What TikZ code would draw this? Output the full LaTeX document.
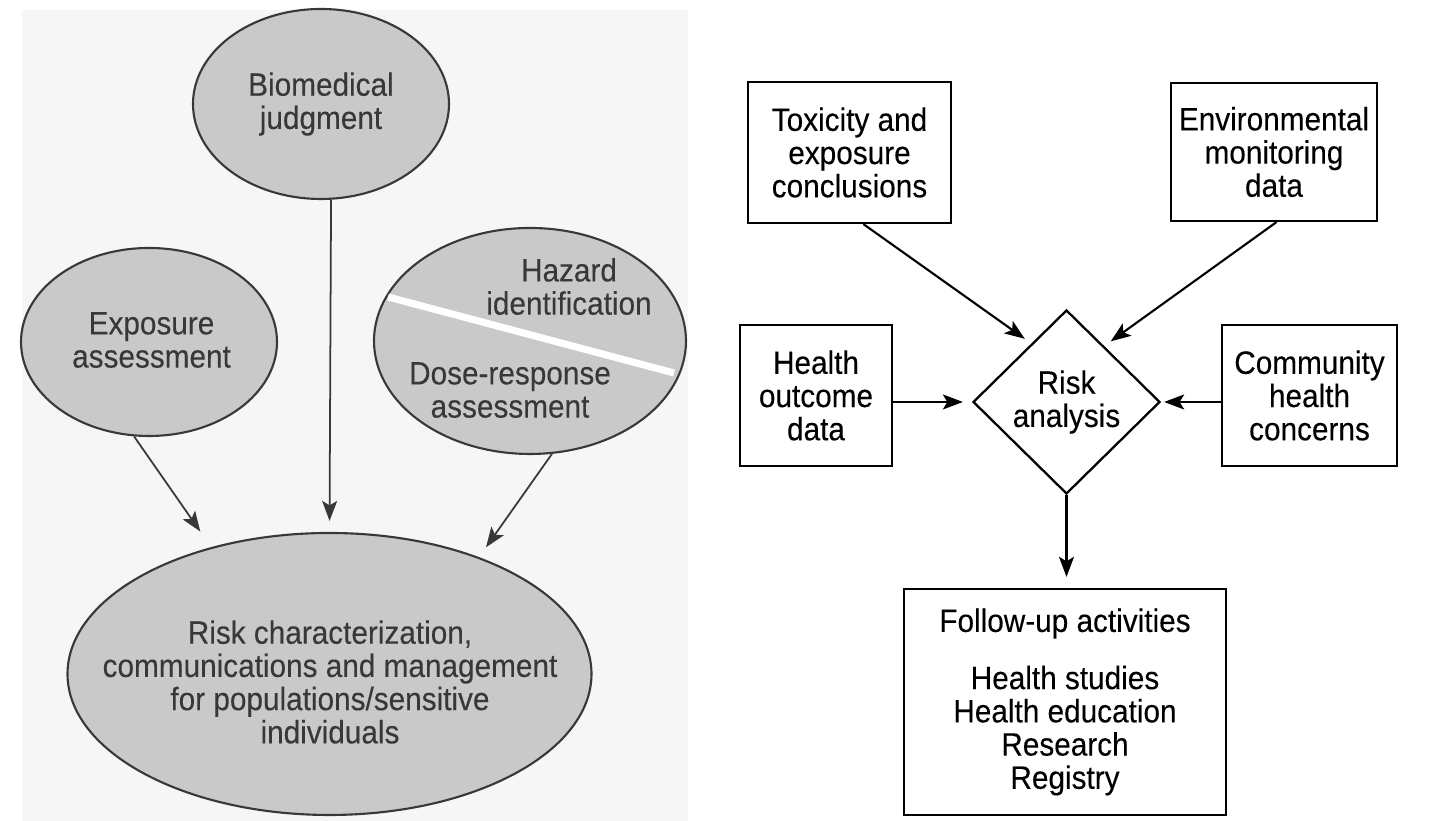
\documentclass[tikz,border=0pt]{standalone}
\usepackage{fontspec}
\setmainfont[FakeStretch=0.92, FakeBold=0.2]{Liberation Sans}
\usetikzlibrary{shapes.geometric, arrows.meta}

\definecolor{pagegray}{gray}{0.965}
\definecolor{blobgray}{gray}{0.79}
\definecolor{inkgray}{gray}{0.22}

\tikzset{
	txt/.style = {align = center, inner sep = 0pt, font = \fontsize{9.2}{9.45}\selectfont},
	blob/.style = {ellipse, draw = inkgray, fill = blobgray, line width = 0.6pt, inner sep = 0pt},
	blobtxt/.style = {txt, text = inkgray},
	box/.style = {txt, rectangle, draw, line width = 0.65pt},
	grayarrow/.style = {draw = inkgray, line width = 0.5pt, ->},
	blackarrow/.style = {line width = 0.6pt, ->}
}

\begin{document}
\begin{tikzpicture}[>={Stealth[length = 2mm, width = 1.5mm, inset = 0.45mm]}]
	 \useasboundingbox (0, 0) rectangle (14.31, 8.21);
	 \fill[pagegray] (0.22, 0) rectangle (6.88, 8.11);

	 % left part
	 \node[blob, blobtxt, minimum width = 2.56 cm, minimum height = 1.90 cm] (biomedical) at (3.21, 7.17) {Biomedical\\judgment};
	 \node[blob, minimum width = 2.56 cm, minimum height = 1.88 cm] (exposure) at (1.49, 4.79) {};
	 \node[blob, minimum width = 3.12 cm, minimum height = 2.26 cm] (hazard) at (5.30, 4.80) {};
	 \node[blob, minimum width = 5.24 cm, minimum height = 2.82 cm] (risk) at (3.295, 1.47) {};

	 \coordinate (stripeA) at (3.88, 5.24);
	 \coordinate (stripeB) at (6.74, 4.48);
	 \draw[white, line width = 2 pt] (stripeA) -- (stripeB);

	 \node[blobtxt] (exposuretxt) at (1.515, 4.81) {Exposure\\assessment};
	 \node[blobtxt] (hazardtxt) at (5.69, 5.345) {Hazard\\identification};
	 \node[blobtxt] (dosetxt) at (5.10, 4.31) {Dose-response\\assessment};
	 \node[blobtxt] (risktxt) at (3.30, 1.39) {Risk characterization,\\communications and management\\for populations/sensitive\\individuals};

	 \draw[grayarrow, shorten > = 0.19 cm] (exposure.261) -- (risk.133.6);
	 \draw[grayarrow, shorten > = 0.11 cm] (biomedical.-84.6) -- (risk.north);
	 \draw[grayarrow, shorten > = 0.12 cm] (hazard.-79.4) -- (risk.38.6);

	 % right part
	 \node[box, minimum width = 2.03 cm, minimum height = 1.41 cm] (toxicity) at (8.495, 6.685) {Toxicity and\\exposure\\conclusions};
	 \node[box, minimum width = 2.06 cm, minimum height = 1.38 cm] (monitoring) at (12.74, 6.69) {Environmental\\monitoring\\data};
	 \node[box, minimum width = 1.52 cm, minimum height = 1.41 cm] (outcome) at (8.16, 4.255) {Health\\outcome\\data};
	 \node[box, minimum width = 1.75 cm, minimum height = 1.41 cm] (community) at (13.095, 4.255) {Community\\health\\concerns};
	 \node[box, diamond, minimum width = 1.87 cm, minimum height = 1.84 cm] (analysis) at (10.665, 4.19) {Risk\\analysis};
	 \node[box, minimum width = 3.22 cm, minimum height = 2.26 cm] (followup) at (10.65, 1.19) {Follow-up activities\\[2.4 mm]Health studies\\Health education\\Research\\Registry};

	 \draw[blackarrow, shorten > = 0.08 cm] (toxicity.-79) -- (analysis.121.5);
	 \draw[blackarrow, shorten > = 0.08 cm] (monitoring.-88) -- (analysis.56.6);
	 \draw[blackarrow, shorten > = 0.09 cm] (outcome.east |- analysis) -- (analysis);
	 \draw[blackarrow, shorten > = 0.03 cm] (community.west |- analysis) -- (analysis);
	 \draw[blackarrow, shorten > = 0.11 cm] (analysis) -- (analysis |- followup.north);
\end{tikzpicture}
\end{document}
